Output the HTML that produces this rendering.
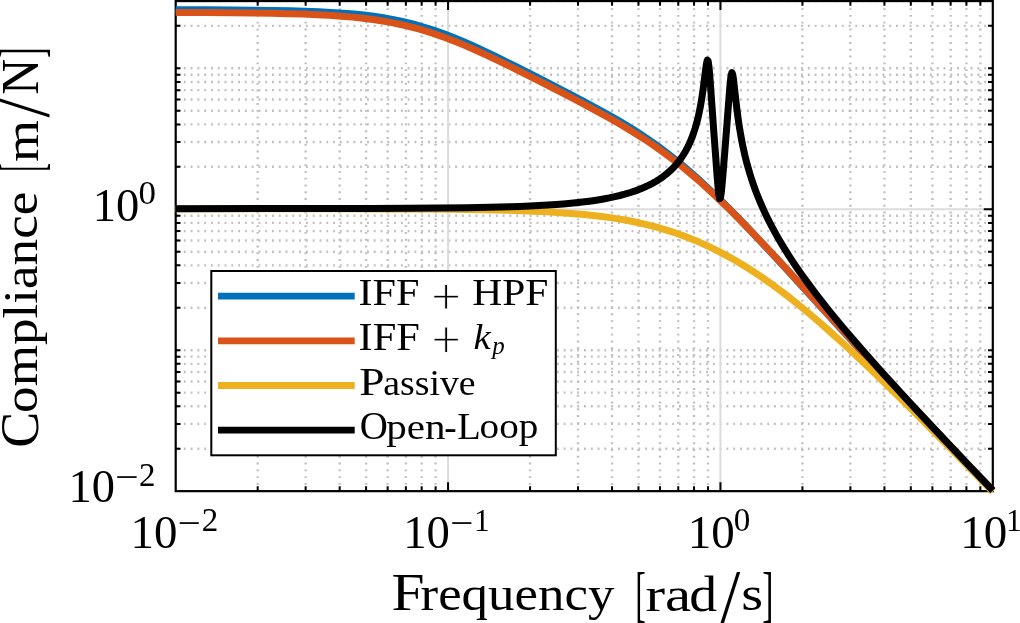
<!DOCTYPE html>
<html><head><meta charset="utf-8"><title>Compliance</title>
<style>html,body{margin:0;padding:0;background:#fff;width:1020px;height:623px;overflow:hidden}
svg{display:block} text{font-family:"Liberation Serif",serif;fill:#000}</style></head>
<body><svg width="1020" height="623" viewBox="0 0 1020 623">
<rect width="1020" height="623" fill="#fff"/>
<g id="grid"><line x1="257.69" y1="1.05" x2="257.69" y2="491.15" stroke="#c0c0c0" stroke-width="2.4" stroke-dasharray="1.9 4.883" stroke-dashoffset="-0.3"/><line x1="305.65" y1="1.05" x2="305.65" y2="491.15" stroke="#c0c0c0" stroke-width="2.4" stroke-dasharray="1.9 4.883" stroke-dashoffset="-0.3"/><line x1="339.68" y1="1.05" x2="339.68" y2="491.15" stroke="#c0c0c0" stroke-width="2.4" stroke-dasharray="1.9 4.883" stroke-dashoffset="-0.3"/><line x1="366.08" y1="1.05" x2="366.08" y2="491.15" stroke="#c0c0c0" stroke-width="2.4" stroke-dasharray="1.9 4.883" stroke-dashoffset="-0.3"/><line x1="387.65" y1="1.05" x2="387.65" y2="491.15" stroke="#c0c0c0" stroke-width="2.4" stroke-dasharray="1.9 4.883" stroke-dashoffset="-0.3"/><line x1="405.88" y1="1.05" x2="405.88" y2="491.15" stroke="#c0c0c0" stroke-width="2.4" stroke-dasharray="1.9 4.883" stroke-dashoffset="-0.3"/><line x1="421.67" y1="1.05" x2="421.67" y2="491.15" stroke="#c0c0c0" stroke-width="2.4" stroke-dasharray="1.9 4.883" stroke-dashoffset="-0.3"/><line x1="435.61" y1="1.05" x2="435.61" y2="491.15" stroke="#c0c0c0" stroke-width="2.4" stroke-dasharray="1.9 4.883" stroke-dashoffset="-0.3"/><line x1="530.06" y1="1.05" x2="530.06" y2="491.15" stroke="#c0c0c0" stroke-width="2.4" stroke-dasharray="1.9 4.883" stroke-dashoffset="-0.3"/><line x1="578.02" y1="1.05" x2="578.02" y2="491.15" stroke="#c0c0c0" stroke-width="2.4" stroke-dasharray="1.9 4.883" stroke-dashoffset="-0.3"/><line x1="612.05" y1="1.05" x2="612.05" y2="491.15" stroke="#c0c0c0" stroke-width="2.4" stroke-dasharray="1.9 4.883" stroke-dashoffset="-0.3"/><line x1="638.45" y1="1.05" x2="638.45" y2="491.15" stroke="#c0c0c0" stroke-width="2.4" stroke-dasharray="1.9 4.883" stroke-dashoffset="-0.3"/><line x1="660.02" y1="1.05" x2="660.02" y2="491.15" stroke="#c0c0c0" stroke-width="2.4" stroke-dasharray="1.9 4.883" stroke-dashoffset="-0.3"/><line x1="678.25" y1="1.05" x2="678.25" y2="491.15" stroke="#c0c0c0" stroke-width="2.4" stroke-dasharray="1.9 4.883" stroke-dashoffset="-0.3"/><line x1="694.04" y1="1.05" x2="694.04" y2="491.15" stroke="#c0c0c0" stroke-width="2.4" stroke-dasharray="1.9 4.883" stroke-dashoffset="-0.3"/><line x1="707.98" y1="1.05" x2="707.98" y2="491.15" stroke="#c0c0c0" stroke-width="2.4" stroke-dasharray="1.9 4.883" stroke-dashoffset="-0.3"/><line x1="802.43" y1="1.05" x2="802.43" y2="491.15" stroke="#c0c0c0" stroke-width="2.4" stroke-dasharray="1.9 4.883" stroke-dashoffset="-0.3"/><line x1="850.39" y1="1.05" x2="850.39" y2="491.15" stroke="#c0c0c0" stroke-width="2.4" stroke-dasharray="1.9 4.883" stroke-dashoffset="-0.3"/><line x1="884.42" y1="1.05" x2="884.42" y2="491.15" stroke="#c0c0c0" stroke-width="2.4" stroke-dasharray="1.9 4.883" stroke-dashoffset="-0.3"/><line x1="910.82" y1="1.05" x2="910.82" y2="491.15" stroke="#c0c0c0" stroke-width="2.4" stroke-dasharray="1.9 4.883" stroke-dashoffset="-0.3"/><line x1="932.39" y1="1.05" x2="932.39" y2="491.15" stroke="#c0c0c0" stroke-width="2.4" stroke-dasharray="1.9 4.883" stroke-dashoffset="-0.3"/><line x1="950.62" y1="1.05" x2="950.62" y2="491.15" stroke="#c0c0c0" stroke-width="2.4" stroke-dasharray="1.9 4.883" stroke-dashoffset="-0.3"/><line x1="966.41" y1="1.05" x2="966.41" y2="491.15" stroke="#c0c0c0" stroke-width="2.4" stroke-dasharray="1.9 4.883" stroke-dashoffset="-0.3"/><line x1="980.35" y1="1.05" x2="980.35" y2="491.15" stroke="#c0c0c0" stroke-width="2.4" stroke-dasharray="1.9 4.883" stroke-dashoffset="-0.3"/><line x1="175.70" y1="448.72" x2="992.80" y2="448.72" stroke="#c0c0c0" stroke-width="2.4" stroke-dasharray="1.9 4.883" stroke-dashoffset="-1.35"/><line x1="175.70" y1="423.90" x2="992.80" y2="423.90" stroke="#c0c0c0" stroke-width="2.4" stroke-dasharray="1.9 4.883" stroke-dashoffset="-1.35"/><line x1="175.70" y1="406.29" x2="992.80" y2="406.29" stroke="#c0c0c0" stroke-width="2.4" stroke-dasharray="1.9 4.883" stroke-dashoffset="-1.35"/><line x1="175.70" y1="392.63" x2="992.80" y2="392.63" stroke="#c0c0c0" stroke-width="2.4" stroke-dasharray="1.9 4.883" stroke-dashoffset="-1.35"/><line x1="175.70" y1="381.47" x2="992.80" y2="381.47" stroke="#c0c0c0" stroke-width="2.4" stroke-dasharray="1.9 4.883" stroke-dashoffset="-1.35"/><line x1="175.70" y1="372.03" x2="992.80" y2="372.03" stroke="#c0c0c0" stroke-width="2.4" stroke-dasharray="1.9 4.883" stroke-dashoffset="-1.35"/><line x1="175.70" y1="363.86" x2="992.80" y2="363.86" stroke="#c0c0c0" stroke-width="2.4" stroke-dasharray="1.9 4.883" stroke-dashoffset="-1.35"/><line x1="175.70" y1="356.65" x2="992.80" y2="356.65" stroke="#c0c0c0" stroke-width="2.4" stroke-dasharray="1.9 4.883" stroke-dashoffset="-1.35"/><line x1="175.70" y1="350.20" x2="992.80" y2="350.20" stroke="#c0c0c0" stroke-width="2.4" stroke-dasharray="1.9 4.883" stroke-dashoffset="-1.35"/><line x1="175.70" y1="307.77" x2="992.80" y2="307.77" stroke="#c0c0c0" stroke-width="2.4" stroke-dasharray="1.9 4.883" stroke-dashoffset="-1.35"/><line x1="175.70" y1="282.95" x2="992.80" y2="282.95" stroke="#c0c0c0" stroke-width="2.4" stroke-dasharray="1.9 4.883" stroke-dashoffset="-1.35"/><line x1="175.70" y1="265.34" x2="992.80" y2="265.34" stroke="#c0c0c0" stroke-width="2.4" stroke-dasharray="1.9 4.883" stroke-dashoffset="-1.35"/><line x1="175.70" y1="251.68" x2="992.80" y2="251.68" stroke="#c0c0c0" stroke-width="2.4" stroke-dasharray="1.9 4.883" stroke-dashoffset="-1.35"/><line x1="175.70" y1="240.52" x2="992.80" y2="240.52" stroke="#c0c0c0" stroke-width="2.4" stroke-dasharray="1.9 4.883" stroke-dashoffset="-1.35"/><line x1="175.70" y1="231.08" x2="992.80" y2="231.08" stroke="#c0c0c0" stroke-width="2.4" stroke-dasharray="1.9 4.883" stroke-dashoffset="-1.35"/><line x1="175.70" y1="222.91" x2="992.80" y2="222.91" stroke="#c0c0c0" stroke-width="2.4" stroke-dasharray="1.9 4.883" stroke-dashoffset="-1.35"/><line x1="175.70" y1="215.70" x2="992.80" y2="215.70" stroke="#c0c0c0" stroke-width="2.4" stroke-dasharray="1.9 4.883" stroke-dashoffset="-1.35"/><line x1="175.70" y1="166.82" x2="992.80" y2="166.82" stroke="#c0c0c0" stroke-width="2.4" stroke-dasharray="1.9 4.883" stroke-dashoffset="-1.35"/><line x1="175.70" y1="142.00" x2="992.80" y2="142.00" stroke="#c0c0c0" stroke-width="2.4" stroke-dasharray="1.9 4.883" stroke-dashoffset="-1.35"/><line x1="175.70" y1="124.39" x2="992.80" y2="124.39" stroke="#c0c0c0" stroke-width="2.4" stroke-dasharray="1.9 4.883" stroke-dashoffset="-1.35"/><line x1="175.70" y1="110.73" x2="992.80" y2="110.73" stroke="#c0c0c0" stroke-width="2.4" stroke-dasharray="1.9 4.883" stroke-dashoffset="-1.35"/><line x1="175.70" y1="99.57" x2="992.80" y2="99.57" stroke="#c0c0c0" stroke-width="2.4" stroke-dasharray="1.9 4.883" stroke-dashoffset="-1.35"/><line x1="175.70" y1="90.13" x2="992.80" y2="90.13" stroke="#c0c0c0" stroke-width="2.4" stroke-dasharray="1.9 4.883" stroke-dashoffset="-1.35"/><line x1="175.70" y1="81.96" x2="992.80" y2="81.96" stroke="#c0c0c0" stroke-width="2.4" stroke-dasharray="1.9 4.883" stroke-dashoffset="-1.35"/><line x1="175.70" y1="74.75" x2="992.80" y2="74.75" stroke="#c0c0c0" stroke-width="2.4" stroke-dasharray="1.9 4.883" stroke-dashoffset="-1.35"/><line x1="175.70" y1="68.30" x2="992.80" y2="68.30" stroke="#c0c0c0" stroke-width="2.4" stroke-dasharray="1.9 4.883" stroke-dashoffset="-1.35"/><line x1="175.70" y1="25.87" x2="992.80" y2="25.87" stroke="#c0c0c0" stroke-width="2.4" stroke-dasharray="1.9 4.883" stroke-dashoffset="-1.35"/><line x1="175.70" y1="1.05" x2="992.80" y2="1.05" stroke="#c0c0c0" stroke-width="2.4" stroke-dasharray="1.9 4.883" stroke-dashoffset="-1.35"/><line x1="448.07" y1="1.05" x2="448.07" y2="491.15" stroke="#dcdcdc" stroke-width="2"/><line x1="720.44" y1="1.05" x2="720.44" y2="491.15" stroke="#dcdcdc" stroke-width="2"/><line x1="175.70" y1="209.25" x2="992.80" y2="209.25" stroke="#dcdcdc" stroke-width="2"/></g>
<path d="M257.69,491.15V486.35M257.69,1.05V5.85M305.65,491.15V486.35M305.65,1.05V5.85M339.68,491.15V486.35M339.68,1.05V5.85M366.08,491.15V486.35M366.08,1.05V5.85M387.65,491.15V486.35M387.65,1.05V5.85M405.88,491.15V486.35M405.88,1.05V5.85M421.67,491.15V486.35M421.67,1.05V5.85M435.61,491.15V486.35M435.61,1.05V5.85M530.06,491.15V486.35M530.06,1.05V5.85M578.02,491.15V486.35M578.02,1.05V5.85M612.05,491.15V486.35M612.05,1.05V5.85M638.45,491.15V486.35M638.45,1.05V5.85M660.02,491.15V486.35M660.02,1.05V5.85M678.25,491.15V486.35M678.25,1.05V5.85M694.04,491.15V486.35M694.04,1.05V5.85M707.98,491.15V486.35M707.98,1.05V5.85M802.43,491.15V486.35M802.43,1.05V5.85M850.39,491.15V486.35M850.39,1.05V5.85M884.42,491.15V486.35M884.42,1.05V5.85M910.82,491.15V486.35M910.82,1.05V5.85M932.39,491.15V486.35M932.39,1.05V5.85M950.62,491.15V486.35M950.62,1.05V5.85M966.41,491.15V486.35M966.41,1.05V5.85M980.35,491.15V486.35M980.35,1.05V5.85M448.07,491.15V482.15M448.07,1.05V10.05M720.44,491.15V482.15M720.44,1.05V10.05M175.70,448.72H180.50M992.80,448.72H988.00M175.70,423.90H180.50M992.80,423.90H988.00M175.70,406.29H180.50M992.80,406.29H988.00M175.70,392.63H180.50M992.80,392.63H988.00M175.70,381.47H180.50M992.80,381.47H988.00M175.70,372.03H180.50M992.80,372.03H988.00M175.70,363.86H180.50M992.80,363.86H988.00M175.70,356.65H180.50M992.80,356.65H988.00M175.70,350.20H180.50M992.80,350.20H988.00M175.70,307.77H180.50M992.80,307.77H988.00M175.70,282.95H180.50M992.80,282.95H988.00M175.70,265.34H180.50M992.80,265.34H988.00M175.70,251.68H180.50M992.80,251.68H988.00M175.70,240.52H180.50M992.80,240.52H988.00M175.70,231.08H180.50M992.80,231.08H988.00M175.70,222.91H180.50M992.80,222.91H988.00M175.70,215.70H180.50M992.80,215.70H988.00M175.70,166.82H180.50M992.80,166.82H988.00M175.70,142.00H180.50M992.80,142.00H988.00M175.70,124.39H180.50M992.80,124.39H988.00M175.70,110.73H180.50M992.80,110.73H988.00M175.70,99.57H180.50M992.80,99.57H988.00M175.70,90.13H180.50M992.80,90.13H988.00M175.70,81.96H180.50M992.80,81.96H988.00M175.70,74.75H180.50M992.80,74.75H988.00M175.70,68.30H180.50M992.80,68.30H988.00M175.70,25.87H180.50M992.80,25.87H988.00M175.70,1.05H180.50M992.80,1.05H988.00M175.70,209.25H184.70M992.80,209.25H983.80" stroke="#000" stroke-width="2" fill="none"/>
<rect x="175.7" y="1.05" width="817.10" height="490.10" fill="none" stroke="#000" stroke-width="2.2"/>
<g fill="none" stroke-width="7.0" stroke-linejoin="round" stroke-linecap="butt">
<path d="M175.70,9.72 L206.78,9.83 L232.14,9.99 L254.22,10.20 L273.03,10.47 L290.21,10.82 L304.93,11.24 L318.84,11.77 L331.11,12.39 L343.38,13.19 L354.01,14.08 L363.82,15.08 L373.64,16.30 L378.55,17.00 L383.45,17.77 L388.36,18.61 L392.45,19.36 L397.36,20.34 L401.45,21.22 L409.63,23.14 L414.53,24.42 L418.62,25.54 L426.80,27.98 L434.98,30.66 L439.07,32.08 L443.98,33.87 L452.98,37.34 L461.97,41.05 L471.79,45.33 L482.42,50.20 L489.78,53.68 L497.15,57.23 L514.32,65.72 L538.04,77.73 L565.03,91.59 L582.21,100.56 L596.11,107.99 L608.38,114.77 L614.11,118.03 L619.83,121.36 L627.20,125.77 L633.74,129.82 L640.28,134.02 L646.83,138.37 L653.37,142.90 L659.91,147.61 L666.46,152.51 L672.18,156.96 L677.91,161.56 L684.45,167.00 L690.18,171.91 L696.72,177.70 L703.26,183.65 L709.81,189.77 L716.35,196.05 L723.71,203.26 L732.71,212.29 L741.71,221.51 L751.52,231.76 L762.15,243.03 L773.61,255.33 L787.51,270.43 L834.95,322.37 L854.58,343.79 L871.76,362.41 L888.93,380.90 L911.84,405.38 L936.37,431.38 L962.55,458.93 L992.81,490.60" stroke="#0072BD"/>
<path d="M175.70,12.40 L205.15,12.53 L230.50,12.71 L252.59,12.96 L271.40,13.26 L288.57,13.65 L303.30,14.11 L317.20,14.69 L329.47,15.35 L340.92,16.14 L352.37,17.12 L363.01,18.24 L372.82,19.50 L377.73,20.21 L382.64,20.99 L391.63,22.60 L396.54,23.58 L400.63,24.46 L405.54,25.58 L409.63,26.58 L414.53,27.85 L418.62,28.98 L422.71,30.16 L427.62,31.65 L431.71,32.96 L436.62,34.60 L445.62,37.81 L450.52,39.67 L455.43,41.59 L465.25,45.63 L475.88,50.26 L486.51,55.10 L493.87,58.56 L501.24,62.09 L518.41,70.53 L538.86,80.83 L560.94,92.16 L579.76,101.98 L595.30,110.30 L608.38,117.51 L614.93,121.22 L620.65,124.54 L628.01,128.91 L635.38,133.43 L642.74,138.10 L649.28,142.41 L655.82,146.88 L662.37,151.52 L668.91,156.33 L675.45,161.32 L681.18,165.85 L687.72,171.19 L694.27,176.72 L700.81,182.43 L707.35,188.32 L714.71,195.13 L721.26,201.35 L728.62,208.50 L737.62,217.47 L747.43,227.48 L758.06,238.55 L769.52,250.69 L780.97,262.99 L794.87,278.09 L841.49,329.15 L860.31,349.68 L876.66,367.42 L893.02,385.06 L915.11,408.68 L938.83,433.85 L964.18,460.56 L992.81,490.54" stroke="#D95319"/>
<path d="M175.70,208.64 L279.58,208.67 L345.83,208.74 L395.72,208.88 L434.17,209.11 L467.70,209.48 L482.42,209.71 L496.33,210.00 L509.41,210.34 L520.87,210.70 L532.32,211.13 L542.95,211.62 L553.58,212.20 L564.22,212.89 L574.03,213.64 L583.85,214.52 L592.84,215.46 L601.84,216.53 L610.02,217.64 L618.20,218.90 L626.38,220.32 L633.74,221.74 L641.10,223.32 L648.46,225.06 L655.82,226.97 L663.19,229.06 L670.55,231.34 L677.09,233.54 L681.18,234.99 L685.27,236.51 L692.63,239.40 L696.72,241.10 L700.81,242.87 L708.17,246.22 L715.53,249.79 L722.89,253.58 L730.26,257.59 L738.43,262.30 L745.80,266.78 L753.98,272.00 L761.34,276.92 L769.52,282.63 L776.88,287.98 L785.06,294.14 L793.24,300.52 L801.41,307.12 L809.59,313.91 L817.77,320.88 L826.77,328.74 L835.77,336.78 L844.77,344.98 L854.58,354.09 L865.21,364.13 L875.85,374.32 L887.30,385.44 L898.75,396.68 L911.02,408.85 L924.92,422.75 L939.64,437.58 L956.00,454.16 L992.81,491.74" stroke="#EDB120"/>
<path d="M175.70,208.63 L326.20,208.55 L372.00,208.46 L407.99,208.31 L439.89,208.07 L466.88,207.74 L489.78,207.32 L510.23,206.77 L520.05,206.42 L529.86,206.01 L538.86,205.57 L547.86,205.05 L556.04,204.50 L563.40,203.93 L570.76,203.28 L578.12,202.53 L584.66,201.77 L591.21,200.91 L597.75,199.93 L603.48,198.96 L609.20,197.88 L614.93,196.66 L619.83,195.50 L624.74,194.20 L630.47,192.50 L635.38,190.86 L640.28,189.01 L644.37,187.30 L648.46,185.41 L652.55,183.30 L656.64,180.95 L659.91,178.86 L663.19,176.56 L666.46,174.01 L669.73,171.18 L671.36,169.65 L673.00,168.02 L674.64,166.29 L676.27,164.44 L678.73,161.45 L681.18,158.12 L683.63,154.41 L686.09,150.23 L687.72,147.12 L689.36,143.72 L690.18,141.89 L691.81,137.93 L693.45,133.50 L695.08,128.51 L696.72,122.81 L697.54,119.63 L698.36,116.21 L699.17,112.50 L699.99,108.46 L700.81,104.05 L701.63,99.23 L702.45,93.94 L703.26,88.15 L705.72,68.73 L706.54,63.16 L707.35,60.08 L708.17,61.16 L708.99,66.87 L709.81,76.05 L713.90,132.91 L717.17,176.80 L717.99,186.67 L718.80,194.52 L719.62,198.69 L720.44,197.97 L721.26,192.77 L722.08,184.67 L722.89,175.16 L724.53,154.94 L726.98,123.88 L729.44,91.85 L730.26,82.34 L731.07,75.37 L731.89,72.55 L732.71,74.36 L733.53,79.64 L735.98,101.48 L736.80,108.38 L737.62,114.79 L738.43,120.71 L739.25,126.19 L740.89,136.00 L742.52,144.57 L743.34,148.49 L744.98,155.71 L745.80,159.06 L747.43,165.32 L749.89,173.82 L751.52,179.01 L753.16,183.88 L754.79,188.49 L756.43,192.86 L758.06,197.03 L760.52,202.96 L762.15,206.72 L764.61,212.12 L767.06,217.26 L769.52,222.18 L771.97,226.90 L774.42,231.46 L776.88,235.86 L780.15,241.52 L782.60,245.63 L785.87,250.94 L789.15,256.09 L792.42,261.09 L795.69,265.96 L799.78,271.89 L803.05,276.52 L807.14,282.17 L811.23,287.70 L815.32,293.12 L819.41,298.43 L824.32,304.69 L829.22,310.83 L834.13,316.87 L843.95,328.68 L855.40,342.11 L867.67,356.15 L880.75,370.82 L894.66,386.15 L910.20,403.04 L927.38,421.49 L946.19,441.49 L968.27,464.79 L992.81,490.52" stroke="#000"/>
</g>
<g id="legend"><rect x="211.3" y="271.0" width="344.50" height="184.30" fill="#fff" stroke="#000" stroke-width="2"/><line x1="218.0" y1="296.1" x2="354.7" y2="296.1" stroke="#0072BD" stroke-width="6.8"/><line x1="218.0" y1="340.8" x2="354.7" y2="340.8" stroke="#D95319" stroke-width="6.8"/><line x1="218.0" y1="385.5" x2="354.7" y2="385.5" stroke="#EDB120" stroke-width="6.8"/><line x1="218.0" y1="430.2" x2="354.7" y2="430.2" stroke="#000000" stroke-width="6.8"/></g>
<g id="text"><text><tspan x="130.48" y="547.66" font-size="46.91" textLength="46.90" lengthAdjust="spacingAndGlyphs">10</tspan><tspan x="177.55" y="535.16" font-size="36.00" textLength="23.16" lengthAdjust="spacingAndGlyphs">−</tspan><tspan x="201.68" y="531.20" font-size="33.23" textLength="16.50" lengthAdjust="spacingAndGlyphs">2</tspan></text><text><tspan x="403.20" y="547.66" font-size="46.91" textLength="46.67" lengthAdjust="spacingAndGlyphs">10</tspan><tspan x="449.94" y="535.16" font-size="36.00" textLength="23.28" lengthAdjust="spacingAndGlyphs">−</tspan><tspan x="473.97" y="531.20" font-size="32.42" textLength="15.71" lengthAdjust="spacingAndGlyphs">1</tspan></text><text><tspan x="687.77" y="547.66" font-size="46.91" textLength="47.01" lengthAdjust="spacingAndGlyphs">10</tspan><tspan x="733.78" y="531.04" font-size="32.99" textLength="16.55" lengthAdjust="spacingAndGlyphs">0</tspan></text><text><tspan x="960.27" y="547.66" font-size="46.91" textLength="47.01" lengthAdjust="spacingAndGlyphs">10</tspan><tspan x="1005.97" y="531.20" font-size="32.42" textLength="15.71" lengthAdjust="spacingAndGlyphs">1</tspan></text><text><tspan x="92.81" y="220.55" font-size="47.35" textLength="46.55" lengthAdjust="spacingAndGlyphs">10</tspan><tspan x="138.40" y="204.13" font-size="33.73" textLength="17.50" lengthAdjust="spacingAndGlyphs">0</tspan></text><text><tspan x="68.52" y="502.17" font-size="46.47" textLength="46.44" lengthAdjust="spacingAndGlyphs">10</tspan><tspan x="115.11" y="489.36" font-size="36.00" textLength="23.52" lengthAdjust="spacingAndGlyphs">−</tspan><tspan x="139.08" y="485.90" font-size="33.23" textLength="16.50" lengthAdjust="spacingAndGlyphs">2</tspan></text><text><tspan x="391.42" y="610.40" font-size="52.77" textLength="33.03" lengthAdjust="spacingAndGlyphs">F</tspan><tspan x="420.54" y="610.33" font-size="47.97" textLength="193.81" lengthAdjust="spacingAndGlyphs">requency</tspan> <tspan x="635.18" y="615.09" font-size="60.85" textLength="10.57" lengthAdjust="spacingAndGlyphs">[</tspan><tspan x="645.52" y="610.51" font-size="48.75" textLength="45.67" lengthAdjust="spacingAndGlyphs">ra</tspan><tspan x="689.17" y="610.70" font-size="50.43" textLength="27.89" lengthAdjust="spacingAndGlyphs">d</tspan><tspan x="720.40" y="622.24" font-size="75.61" textLength="19.76" lengthAdjust="spacingAndGlyphs">/</tspan><tspan x="741.25" y="610.40" font-size="49.58" textLength="21.85" lengthAdjust="spacingAndGlyphs">s</tspan><tspan x="762.15" y="615.09" font-size="60.85" textLength="11.21" lengthAdjust="spacingAndGlyphs">]</tspan></text><text transform="rotate(-90)"><tspan x="-447.66" y="37.50" font-size="54.78" textLength="36.04" lengthAdjust="spacingAndGlyphs">C</tspan><tspan x="-412.92" y="36.69" font-size="49.11" textLength="221.19" lengthAdjust="spacingAndGlyphs">ompliance</tspan> <tspan x="-171.66" y="41.90" font-size="60.73" textLength="8.84" lengthAdjust="spacingAndGlyphs">[</tspan><tspan x="-162.08" y="37.50" font-size="47.87" textLength="41.95" lengthAdjust="spacingAndGlyphs">m</tspan><tspan x="-117.50" y="48.65" font-size="74.85" textLength="18.96" lengthAdjust="spacingAndGlyphs">/</tspan><tspan x="-94.70" y="37.50" font-size="53.08" textLength="36.00" lengthAdjust="spacingAndGlyphs">N</tspan><tspan x="-57.99" y="41.57" font-size="60.24" textLength="10.75" lengthAdjust="spacingAndGlyphs">]</tspan></text><text><tspan x="358.52" y="305.00" font-size="38.62" textLength="60.87" lengthAdjust="spacingAndGlyphs">IFF</tspan> <tspan x="431.37" y="313.52" font-size="53.78" textLength="29.64" lengthAdjust="spacingAndGlyphs" stroke="#fff" stroke-width="0.8">+</tspan> <tspan x="472.25" y="305.00" font-size="38.62" textLength="76.18" lengthAdjust="spacingAndGlyphs">HPF</tspan></text><text><tspan x="358.60" y="350.00" font-size="39.08" textLength="61.29" lengthAdjust="spacingAndGlyphs">IFF</tspan> <tspan x="431.50" y="358.44" font-size="54.00" textLength="29.28" lengthAdjust="spacingAndGlyphs" stroke="#fff" stroke-width="0.8">+</tspan> <tspan x="473.43" y="349.40" font-size="36.38" textLength="17.24" lengthAdjust="spacingAndGlyphs" font-style="italic">k</tspan><tspan x="492.39" y="354.41" font-size="24.71" textLength="12.45" lengthAdjust="spacingAndGlyphs" font-style="italic">p</tspan></text><text><tspan x="359.23" y="394.60" font-size="39.38" textLength="25.32" lengthAdjust="spacingAndGlyphs">P</tspan><tspan x="383.19" y="394.54" font-size="35.62" textLength="92.39" lengthAdjust="spacingAndGlyphs">assive</tspan></text><text><tspan x="359.74" y="438.91" font-size="39.70" textLength="28.10" lengthAdjust="spacingAndGlyphs">O</tspan><tspan x="386.28" y="438.65" font-size="35.00" textLength="59.19" lengthAdjust="spacingAndGlyphs">pen</tspan><tspan x="444.21" y="440.13" font-size="37.14" textLength="12.43" lengthAdjust="spacingAndGlyphs">-</tspan><tspan x="457.15" y="438.90" font-size="37.69" textLength="23.50" lengthAdjust="spacingAndGlyphs">L</tspan><tspan x="479.63" y="438.49" font-size="35.29" textLength="58.73" lengthAdjust="spacingAndGlyphs">oop</tspan></text></g>
</svg></body></html>
